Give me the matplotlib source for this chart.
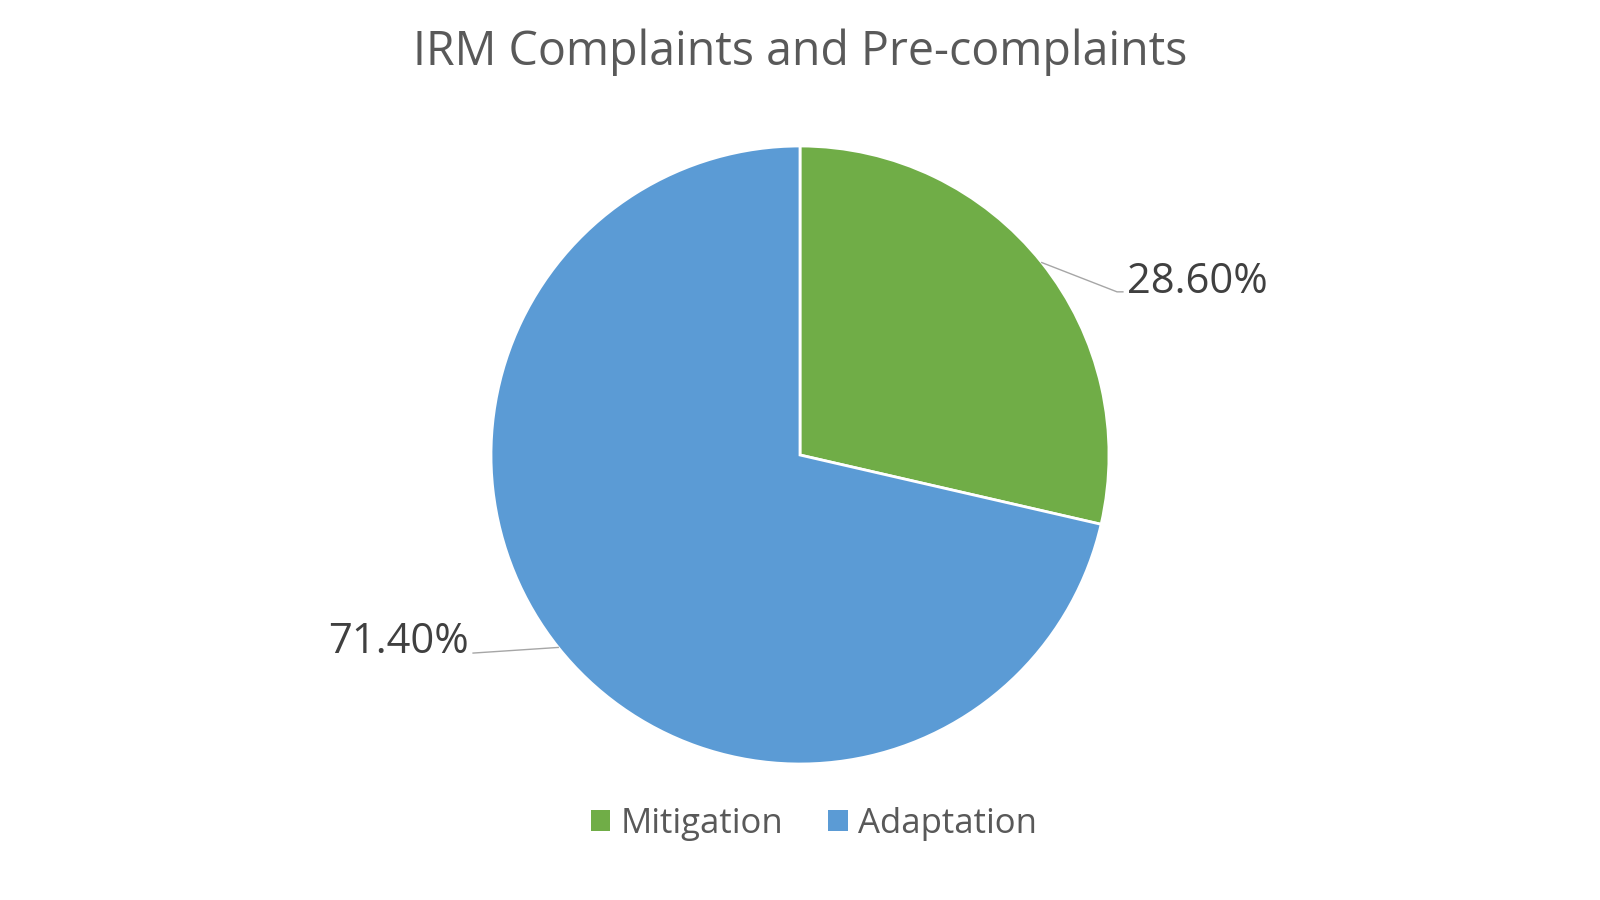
import matplotlib
matplotlib.use("Agg")
import matplotlib.pyplot as plt
import numpy as np
from matplotlib.patches import Patch

title = "IRM Complaints and Pre-complaints"
categories = ["Mitigation", "Adaptation"]
values = [28.60, 71.40]
labels = ["28.60%", "71.40%"]
colors = ["#70AD47", "#5B9BD5"]

plt.rcParams['font.family'] = ['Open Sans', 'DejaVu Sans']

fig = plt.figure(figsize=(16, 9), dpi=100)
ax = fig.add_axes([0, 0, 1, 1])
R = 309.0
cx, cy = 800.0, 455.0

wedges, _ = ax.pie(values, colors=colors, startangle=90, counterclock=False,
                   radius=1.0, center=(0, 0), frame=True,
                   wedgeprops=dict(edgecolor='white', linewidth=2))
ax.set_xlim(-cx / R, (1600 - cx) / R)
ax.set_ylim(-(900 - cy) / R, cy / R)
ax.set_aspect('auto')
ax.axis('off')

# leader lines and labels
specs = [
    # (elbow x, elbow y, end x, text x, text y, ha)
    (1.026, 0.528, 1.045, 1.058, 0.560, 'left'),
    (-0.830, -0.641, -1.058, -1.070, -0.605, 'right'),
]
for w, lab, sp in zip(wedges, labels, specs):
    ang = np.deg2rad((w.theta1 + w.theta2) / 2)
    x0, y0 = np.cos(ang), np.sin(ang)
    ex, ey, endx, tx, ty, ha = sp
    if ha == 'left':
        ax.plot([x0, ex, endx], [y0, ey, ey], color='#A6A6A6', lw=1)
    else:
        ax.plot([x0, endx], [y0, ey], color='#A6A6A6', lw=1)
    ax.text(tx, ty, lab, ha=ha, va='center', fontsize=30, color='#404040')

fig.text(0.5, 1 - 52 / 900, title, ha='center', va='center', fontsize=33.5, color='#595959')

handles = [Patch(facecolor=c, edgecolor='none') for c in colors]
fig.legend(handles, categories, loc='center', bbox_to_anchor=(814 / 1600, 1 - 824 / 900),
           ncol=2, frameon=False, fontsize=25, labelcolor='#595959',
           handlelength=0.55, handleheight=0.55, handletextpad=0.3, columnspacing=1.3)

fig.savefig("out.png", dpi=100)
